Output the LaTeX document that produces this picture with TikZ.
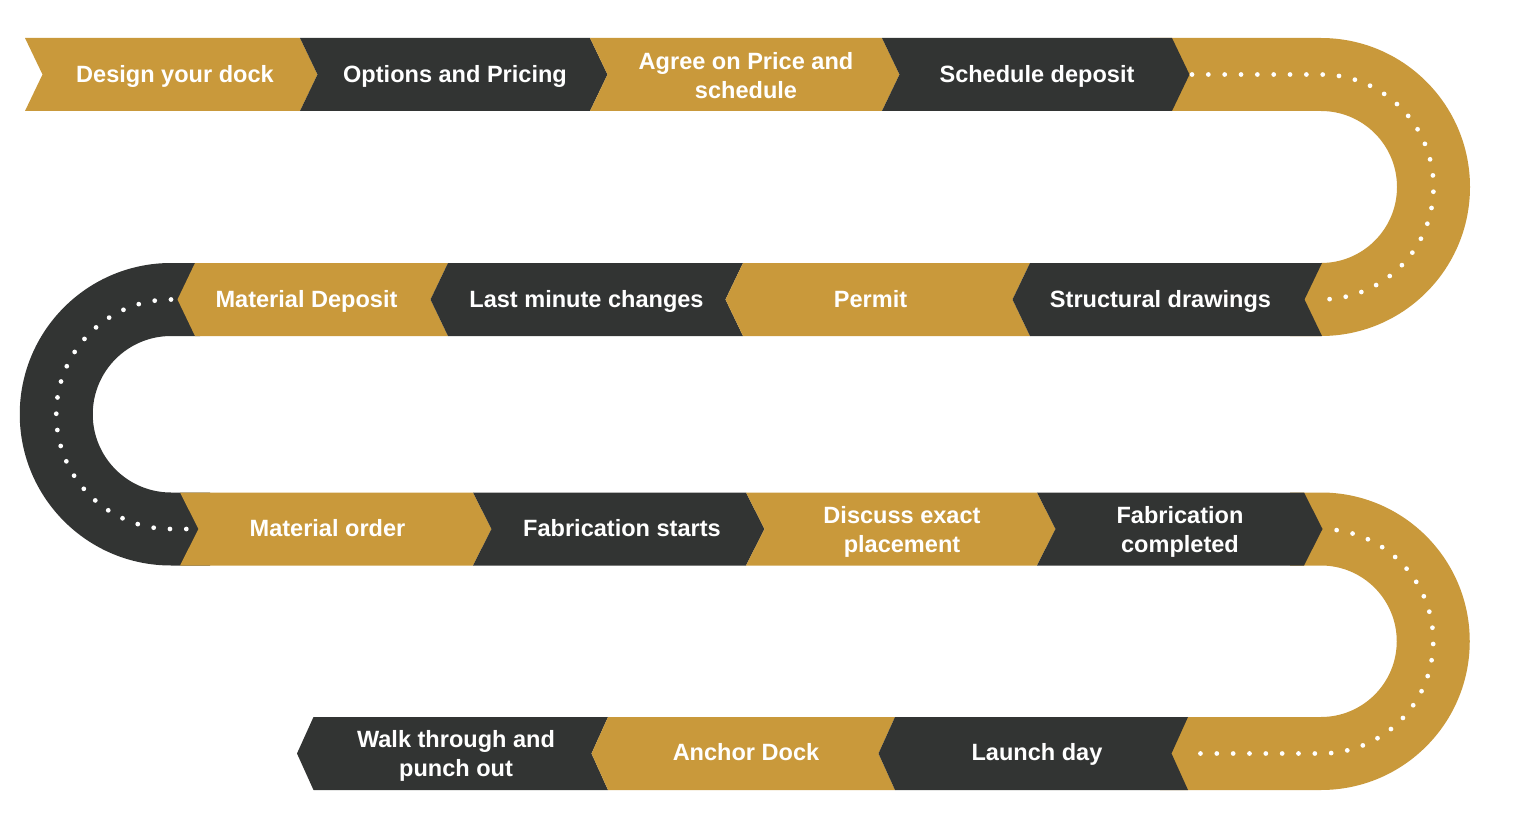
\documentclass[tikz,border=0pt]{standalone}
\usepackage{fontspec}
\setmainfont{Liberation Sans}
\definecolor{dockgold}{RGB}{201, 153, 59}
\definecolor{dockdark}{RGB}{50, 52, 51}

\begin{document}
\begin{tikzpicture}[x=0.02cm, y=-0.02cm,
        steptext/.style = {text=white, font=\bfseries\fontsize{13.4}{16.4}\selectfont, align=center},
         oneline/.style = {steptext, text height=12.5pt, text depth=2.9pt},
            gold/.style = {fill=dockgold},
            dark/.style = {fill=dockdark},
         roaddots/.style = {draw=white, line width=2.7pt, line cap=round, dash pattern=on 0pt off 9.3pt}]
    \useasboundingbox (0,0) rectangle (1519,828);

    % bends
    \fill[gold] (1150,38) -- (1321,38) arc[start angle=-90, end angle=90, radius=149] -- (1290,336) -- (1290,263)
                -- (1321,263) arc[start angle=90, end angle=-90, radius=76] -- (1150,111) -- cycle;
    \fill[dark] (200,263) -- (171,263) arc[start angle=-90, end angle=-270, radius=151.25] -- (210,565.5) -- (210,492.5)
                -- (171,492.5) arc[start angle=90, end angle=270, radius=78.25] -- (200,336) -- cycle;
    \fill[gold] (1290,492.5) -- (1321,492.5) arc[start angle=-90, end angle=90, radius=148.75] -- (1160,790) -- (1160,717)
                -- (1321,717) arc[start angle=90, end angle=-90, radius=75.75] -- (1290,565.5) -- cycle;

    % chevrons, rows 1 and 3 point right, rows 2 and 4 point left
    \foreach \l/\r/\c in {25/300/gold, 300/590/dark, 590/882/gold, 882/1172/dark}
        \fill[\c] (\l,38) -- (\r,38) -- ({\r+17.5},74.5) -- (\r,111) -- (\l,111) -- ({\l+17.5},74.5) -- cycle;
    \foreach \l/\r/\c in {195/448/gold, 448/743/dark, 743/1030/gold, 1030/1322/dark}
        \fill[\c] (\l,263) -- (\r,263) -- ({\r-17.5},299.5) -- (\r,336) -- (\l,336) -- ({\l-17.5},299.5) -- cycle;
    \foreach \l/\r/\c in {180/473/gold, 473/746/dark, 746/1037/gold, 1037/1304/dark}
        \fill[\c] (\l,492.5) -- (\r,492.5) -- ({\r+18.5},529) -- (\r,565.5) -- (\l,565.5) -- ({\l+18.5},529) -- cycle;
    \foreach \l/\r/\c in {313.5/608/dark, 608/895/gold, 895/1188/dark}
        \fill[\c] (\l,717) -- (\r,717) -- ({\r-16.5},753.5) -- (\r,790) -- (\l,790) -- ({\l-16.5},753.5) -- cycle;

    % dotted road
    \draw[roaddots] (1192,74.5) -- (1321,74.5) arc[start angle=-90, end angle=90, radius=112.5];
    \draw[roaddots] (171,299.5) arc[start angle=-90, end angle=-270, radius=114.75] -- (190,529);
    \draw[roaddots] (1321,641.25) ++(-82:112.25) arc[start angle=-82, end angle=90, radius=112.25] -- (1190,753.5);

    % steps
    \node[oneline]  (design)    at (175,74.5)   {Design your dock};
    \node[oneline]  (options)   at (455,74.5)   {Options and Pricing};
    \node[steptext] (agree)     at (746,75.5)   {Agree on Price and\\schedule};
    \node[oneline]  (deposit)   at (1037,74.5)  {Schedule deposit};
    \node[oneline]  (matdep)    at (306.5,299.5) {Material Deposit};
    \node[oneline]  (lastmin)   at (586.5,299.5) {Last minute changes};
    \node[oneline]  (permit)    at (870.5,299.5) {Permit};
    \node[oneline]  (drawings)  at (1160.5,299.5) {Structural drawings};
    \node[oneline]  (matorder)  at (327.5,528.5) {Material order};
    \node[oneline]  (fabstart)  at (622,528.5)  {Fabrication starts};
    \node[steptext] (placement) at (902,532)    {Discuss exact\\placement};
    \node[steptext] (fabdone)   at (1180,532)   {Fabrication\\completed};
    \node[steptext] (walk)      at (456,756)    {Walk through and\\punch out};
    \node[oneline]  (anchor)    at (746,752.5)  {Anchor Dock};
    \node[oneline]  (launch)    at (1037,752.5) {Launch day};
\end{tikzpicture}
\end{document}
